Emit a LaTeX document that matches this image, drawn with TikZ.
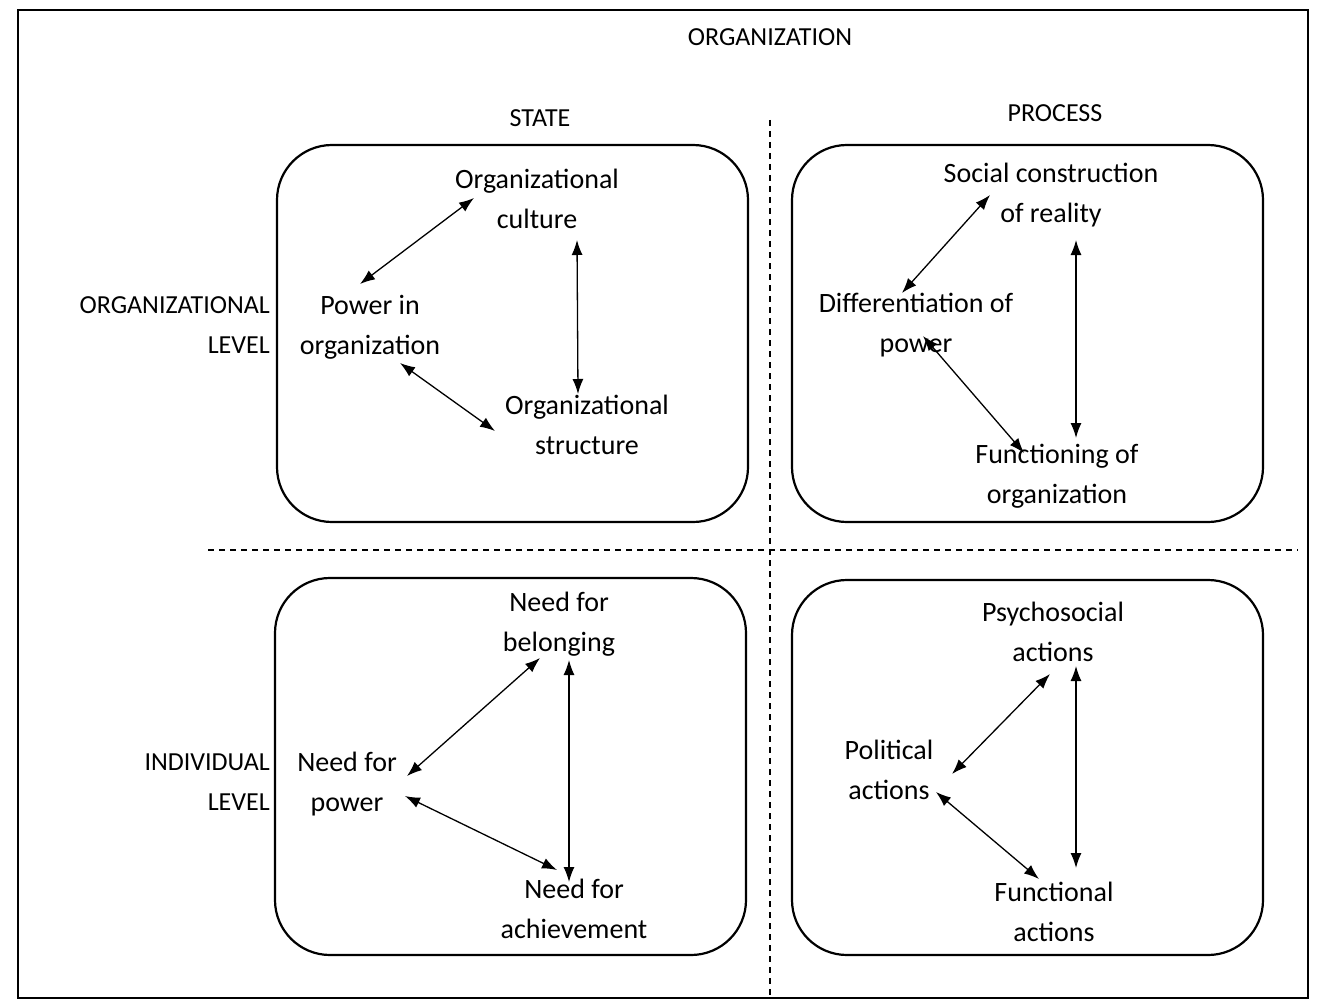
\documentclass[tikz,border=0pt]{standalone}
\usepackage{fontspec}
\setmainfont{Carlito}
\usetikzlibrary{arrows.meta}
\begin{document}
\begin{tikzpicture}[x=1pt,y=-1pt,
  lbl/.style={align=center,font=\fontsize{28}{40}\selectfont,inner sep=0pt},
  hdr/.style={font=\fontsize{26}{38}\selectfont,inner sep=0pt},
  box/.style={draw,line width=2.2pt,rounded corners=55pt},
  link/.style={line width=1.3pt,{Latex[length=15pt,width=11pt]}-{Latex[length=15pt,width=11pt]}},
  sep/.style={line width=1.3pt,dashed,dash pattern=on 6pt off 5pt}]
\useasboundingbox (0,0) rectangle (1329,1008);
\draw[line width=2.2pt] (18,10) rectangle (1308,998);
\node[hdr] (org) at (770,37) {ORGANIZATION};
\node[hdr] (st) at (540,118) {STATE};
\node[hdr] (pr) at (1055,113) {PROCESS};
\coordinate (v1) at (770,120); \coordinate (v2) at (770,995);
\coordinate (h1) at (208,550); \coordinate (h2) at (1298,550);
\draw[sep] (v1) -- (v2);
\draw[sep] (h1) -- (h2);
\node[hdr,align=right,anchor=east,font=\fontsize{26}{40}\selectfont] (ol) at (270,325) {ORGANIZATIONAL\\LEVEL};
\node[hdr,align=right,anchor=east,font=\fontsize{26}{40}\selectfont] (il) at (270,782) {INDIVIDUAL\\LEVEL};
\draw[box] (277,145) rectangle (748,522);
\draw[box] (792,145) rectangle (1263,522);
\draw[box] (275,578) rectangle (746,955);
\draw[box] (792,580) rectangle (1263,955);
% TL
\node[lbl] (a1) at (537,199) {Organizational\\culture};
\node[lbl] (a2) at (370,327) {Power in\\organization};
\node[lbl] (a3) at (587,425) {Organizational\\structure};
\coordinate (a12s) at (474,198); \coordinate (a12e) at (360,284);
\coordinate (a13s) at (577,240); \coordinate (a13e) at (578,394);
\coordinate (a23s) at (400,363); \coordinate (a23e) at (495,431);
\draw[link] (a12s) -- (a12e); \draw[link] (a13s) -- (a13e); \draw[link] (a23s) -- (a23e);
% TR
\node[lbl] (b1) at (1051,195) {Social construction\\of reality};
\node[lbl] (b2) at (916,325) {Differentiation of\\power};
\node[lbl] (b3) at (1057,476) {Functioning of\\organization};
\coordinate (b12s) at (990,195); \coordinate (b12e) at (902,293);
\coordinate (b13s) at (1076,240); \coordinate (b13e) at (1076,438);
\coordinate (b23s) at (923,336); \coordinate (b23e) at (1024,453);
\draw[link] (b12s) -- (b12e); \draw[link] (b13s) -- (b13e); \draw[link] (b23s) -- (b23e);
% BL
\node[lbl] (c1) at (559,624) {Need for\\belonging};
\node[lbl] (c2) at (347,784) {Need for\\power};
\node[lbl] (c3) at (574,909) {Need for\\achievement};
\coordinate (c12s) at (540,658); \coordinate (c12e) at (407,776);
\coordinate (c13s) at (569,660); \coordinate (c13e) at (569,882);
\coordinate (c23s) at (405,796); \coordinate (c23e) at (557,870);
\draw[link] (c12s) -- (c12e); \draw[link] (c13s) -- (c13e); \draw[link] (c23s) -- (c23e);
% BR
\node[lbl] (d1) at (1053,632) {Psychosocial\\actions};
\node[lbl] (d2) at (889,770) {Political\\actions};
\node[lbl] (d3) at (1054,912) {Functional\\actions};
\coordinate (d12s) at (1050,674); \coordinate (d12e) at (952,774);
\coordinate (d13s) at (1076,666); \coordinate (d13e) at (1076,868);
\coordinate (d23s) at (936,792); \coordinate (d23e) at (1039,879);
\draw[link] (d12s) -- (d12e); \draw[link] (d13s) -- (d13e); \draw[link] (d23s) -- (d23e);
\end{tikzpicture}
\end{document}
